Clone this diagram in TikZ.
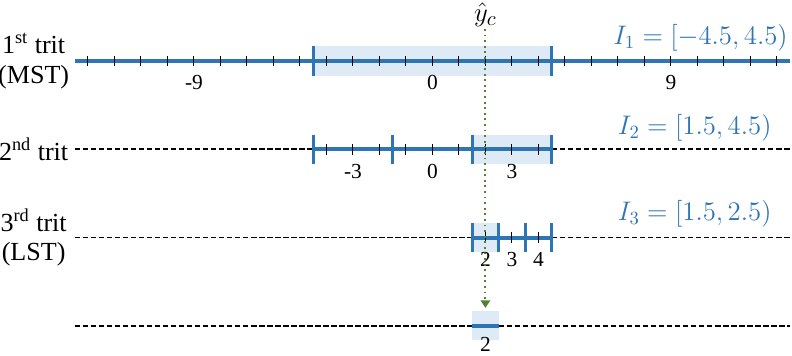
\documentclass[tikz,border=0pt]{standalone}
\usepackage{fontspec}
\setmainfont{Liberation Serif}
\usepackage{amsmath}
\usetikzlibrary{arrows.meta}
\definecolor{tritblue}{HTML}{2E75B6}
\definecolor{boxblue}{HTML}{DEEBF7}
\definecolor{guessgreen}{HTML}{548235}

\begin{document}
\begin{tikzpicture}[x=0.5cm,y=0.5cm,
    axis/.style={tritblue,line width=2.2pt},
    bigtick/.style={tritblue,line width=1.6pt},
    smalltick/.style={black,line width=0.55pt},
    restline/.style={black,line width=0.9pt,dash pattern=on 3pt off 1.3pt},
    sel/.style={fill=boxblue,draw=none},
    numlabel/.style={font=\fontsize{11.5}{13}\selectfont,inner sep=0pt},
    tritlabel/.style={font=\fontsize{14}{16}\selectfont,align=center,inner sep=0pt},
    intlabel/.style={tritblue,font=\fontsize{14.5}{16}\selectfont,anchor=east,inner sep=0pt}]
  \useasboundingbox (-16.32,2.30) rectangle (13.57,-11.13);
  % 1st trit (MST): the whole range, value 0 selected
  \fill[sel] (-4.5,-0.55) rectangle (4.5,0.55);
  \draw[axis] (-13.5,0) -- (13.5,0);
  \foreach \x in {-13,...,13} {
    \draw[smalltick] (\x,-0.2) -- (\x,0.2);
  }
  \foreach \x in {-4.5,4.5} {
    \draw[bigtick] (\x,-0.55) -- (\x,0.55);
  }
  \foreach \v [count=\i] in {-9,0,9} {
    \node[numlabel] (ra\i) at (\v,-0.83) {\v};
  }
  \node[tritlabel] (tritA) at (-15.05,0) {1\textsuperscript{st} trit\\(MST)};
  \node[intlabel] (intA) at (13.42,0.87) {$I_1=[-4.5,4.5)$};
  % 2nd trit: zoom in to [-4.5,4.5)
  \def\ry{-3.333}
  \draw[restline] (-13.5,\ry) -- (-4.5,\ry);
  \draw[restline] (4.5,\ry) -- (13.5,\ry);
  \fill[sel] (1.5,\ry-0.55) rectangle (4.5,\ry+0.55);
  \draw[axis] (-4.5,\ry) -- (4.5,\ry);
  \foreach \x in {-4,...,4} {
    \draw[smalltick] (\x,\ry-0.2) -- (\x,\ry+0.2);
  }
  \foreach \x in {-4.5,-1.5,1.5,4.5} {
    \draw[bigtick] (\x,\ry-0.55) -- (\x,\ry+0.55);
  }
  \foreach \v [count=\i] in {-3,0,3} {
    \node[numlabel] (rb\i) at (\v,\ry-0.83) {\v};
  }
  \node[tritlabel] (tritB) at (-15.05,\ry) {2\textsuperscript{nd} trit};
  \node[intlabel] (intB) at (12.81,\ry+0.8) {$I_2=[1.5,4.5)$};
  % 3rd trit (LST): zoom in to [1.5,4.5)
  \def\ry{-6.667}
  \draw[restline] (-13.5,\ry) -- (1.5,\ry);
  \draw[restline] (4.5,\ry) -- (13.5,\ry);
  \fill[sel] (1.5,\ry-0.55) rectangle (2.5,\ry+0.55);
  \draw[axis] (1.5,\ry) -- (4.5,\ry);
  \foreach \x in {2,3,4} {
    \draw[smalltick] (\x,\ry-0.2) -- (\x,\ry+0.2);
  }
  \foreach \x in {1.5,2.5,3.5,4.5} {
    \draw[bigtick] (\x,\ry-0.55) -- (\x,\ry+0.55);
  }
  \foreach \v [count=\i] in {2,3,4} {
    \node[numlabel] (rc\i) at (\v,\ry-0.83) {\v};
  }
  \node[tritlabel] (tritC) at (-15.05,\ry) {3\textsuperscript{rd} trit\\(LST)};
  \node[intlabel] (intC) at (12.81,\ry+0.9) {$I_3=[1.5,2.5)$};
  % result
  \def\ry{-10}
  \draw[restline] (-13.5,\ry) -- (1.5,\ry);
  \draw[restline] (2.5,\ry) -- (13.5,\ry);
  \fill[sel] (1.5,\ry-0.55) rectangle (2.5,\ry+0.55);
  \draw[axis] (1.5,\ry) -- (2.5,\ry);
  \node[numlabel] (rd1) at (2,\ry-0.7) {2};
  % the value being coded
  \node[font=\fontsize{15}{17}\selectfont,inner sep=1pt] (yhat) at (2,1.74) {$\hat{y}_c$};
  \coordinate (yend) at (2,-9.32);
  \draw[guessgreen,line width=1pt,dotted,-{Triangle[length=4pt,width=5pt]}] (yhat.south) -- (yend);
\end{tikzpicture}
\end{document}
